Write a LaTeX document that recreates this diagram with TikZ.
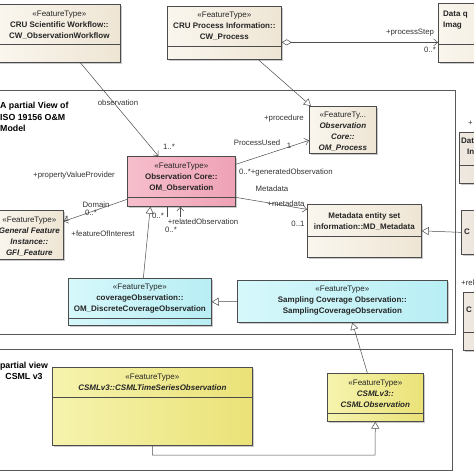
\documentclass[tikz,border=0pt]{standalone}
\usepackage{fontspec}
\setmainfont{Liberation Sans}
\usetikzlibrary{arrows.meta,positioning,shadows}

\definecolor{featL}{HTML}{FAF6EE}
\definecolor{featR}{HTML}{EEE5D4}
\definecolor{obsL}{HTML}{F6BECC}
\definecolor{obsR}{HTML}{EEA2B5}
\definecolor{covL}{HTML}{D6F8FB}
\definecolor{covR}{HTML}{B8EEF4}
\definecolor{csmlL}{HTML}{F6F3AE}
\definecolor{csmlR}{HTML}{EAE277}
\definecolor{extL}{HTML}{EFE9E1}
\definecolor{extR}{HTML}{E2D8CC}

\newcommand{\ftype}{{\mdseries «FeatureType»}}

\tikzset{
  classbox/.style={draw=black!70, line width=0.7pt, inner sep=0pt, anchor=north west,
    drop shadow={shadow xshift=1.5pt, shadow yshift=-1.5pt, opacity=0.35, fill=black!60}},
  featbox/.style={classbox, left color=featL, right color=featR},
  obsbox/.style={classbox, left color=obsL, right color=obsR},
  covbox/.style={classbox, left color=covL, right color=covR},
  csmlbox/.style={classbox, left color=csmlL, right color=csmlR},
  extbox/.style={classbox, left color=extL, right color=extR},
  boxtext/.style={font=\fontsize{8}{11}\selectfont\bfseries, align=center, inner sep=0pt, text=black!85},
  lbl/.style={font=\fontsize{7.8}{9}\selectfont, inner sep=0pt, text=black!80},
  pkglbl/.style={font=\fontsize{8.8}{11.5}\selectfont\bfseries, inner sep=0pt},
  sepline/.style={draw=black!70, line width=0.7pt},
  frameline/.style={draw=black!65, line width=0.8pt},
  assoc/.style={draw=black!70, line width=0.5pt, -{Straight Barb[length=4pt,width=7pt]}},
  gen/.style={draw=black!70, line width=0.5pt, -{Triangle[fill=white,length=7pt,width=8pt]}},
  aggr/.style={draw=black!70, line width=0.5pt, {Diamond[fill=white,length=10pt,width=6pt]}-{Straight Barb[length=4pt,width=7pt]}}
}

\begin{document}
\begin{tikzpicture}[x=1pt,y=-1pt]
\useasboundingbox[fill=white] (0,0) rectangle (474,474);

% PACKAGES
  \draw[frameline] (-5,90) rectangle (455,334);
  \draw[frameline] (-5,349) rectangle (452,470);
  \node[pkglbl, anchor=north west, align=left] (omlbl) at (0,102) {A partial View of\\ISO 19156 O\&M\\Model};
  \node[pkglbl, align=center] (csmllbl) at (24,371) {partial view\\CSML v3};

% CRU classes
  \node[featbox, minimum width=122pt, minimum height=58pt] (cwow) at (-2,4) {};
  \node[boxtext, below=6.5pt of cwow.north] (cwowtxt) {\ftype\\CRU Scientific Workflow::\\CW\_ObservationWorkflow};
  \draw[sepline] (-2,44) -- (120,44);

  \node[featbox, minimum width=114pt, minimum height=53pt] (cwproc) at (167,6) {};
  \node[boxtext, below=5.5pt of cwproc.north] (cwproctxt) {\ftype\\CRU Process Information::\\CW\_Process};
  \draw[sepline] (167,46) -- (281,46);

  \node[featbox, minimum width=102pt, minimum height=59pt] (dataq) at (438,3) {};
  \node[boxtext, anchor=north west, align=left] (dataqtxt) at (443,11) {Data q\\Imag};
  \draw[sepline] (438,44) -- (540,44);

% O&M classes
  \node[obsbox, minimum width=108pt, minimum height=50pt] (omobs) at (127,156) {};
  \node[boxtext, below=6.5pt of omobs.north] (omobstxt) {\ftype\\Observation Core::\\OM\_Observation};
  \draw[sepline] (127,197) -- (235,197);

  \node[featbox, minimum width=67pt, minimum height=47pt] (omproc) at (309,106) {};
  \node[boxtext, below=5.5pt of omproc.north] (omproctxt) {{\mdseries «FeatureTy...}\\\itshape Observation\\\itshape Core::\\\itshape OM\_Process};

  \node[featbox, minimum width=68pt, minimum height=49pt] (gfi) at (-5,210) {};
  \node[boxtext, below=6.5pt of gfi.north] (gfitxt) {\ftype\\\itshape General Feature\\\itshape Instance::\\\itshape GFI\_Feature};

  \node[featbox, minimum width=114pt, minimum height=53pt] (mdmeta) at (307,204) {};
  \node[boxtext, below=8.5pt of mdmeta.north] (mdmetatxt) {Metadata entity set\\information::MD\_Metadata};
  \draw[sepline] (307,236) -- (421,236);

  \node[extbox, minimum width=81pt, minimum height=51pt] (datright) at (459,132) {};
  \node[boxtext, anchor=north west, align=left] (datrighttxt) at (461,138) {Dat\\\hspace*{6pt}In};
  \draw[sepline] (459,165) -- (540,165);

  \node[extbox, minimum width=79pt, minimum height=44pt] (cright) at (461,210) {};
  \node[boxtext, anchor=west] (crighttxt) at (464,232) {C};

  \node[extbox, minimum width=77pt, minimum height=58pt] (crightb) at (463,292) {};
  \node[boxtext, anchor=west] (crightbtxt) at (466,310) {C};
  \draw[sepline] (463,332) -- (540,332);

  \node[covbox, minimum width=143pt, minimum height=47pt] (omdisc) at (68,278) {};
  \node[boxtext, below=5.5pt of omdisc.north] (omdisctxt) {\ftype\\coverageObservation::\\OM\_DiscreteCoverageObservation};
  \draw[sepline] (68,318) -- (211,318);

  \node[covbox, minimum width=210pt, minimum height=42pt] (sampcov) at (237,280) {};
  \node[boxtext, below=6pt of sampcov.north] (sampcovtxt) {\ftype\\Sampling Coverage Observation::\\SamplingCoverageObservation};

% CSML classes
  \node[csmlbox, minimum width=200pt, minimum height=78pt] (csmlts) at (52,367) {};
  \node[boxtext, below=6.5pt of csmlts.north] (csmltstxt) {\ftype\\\itshape CSMLv3::CSMLTimeSeriesObservation};
  \draw[sepline] (52,397) -- (252,397);

  \node[csmlbox, minimum width=96pt, minimum height=48pt] (csmlobs) at (327,373) {};
  \node[boxtext, below=6.5pt of csmlobs.north] (csmlobstxt) {\ftype\\\itshape CSMLv3::\\\itshape CSMLObservation};
  \draw[sepline] (327,413) -- (423,413);

% connectors
  \draw[assoc] ([xshift=21pt]cwow.south) -- ([xshift=-23pt]omobs.north);
  \draw[aggr] ([yshift=-9.5pt]cwproc.east) -- ([yshift=-9.5pt]dataq.west);
  \draw[gen] ([xshift=34pt]cwproc.south) -- ([xshift=2pt]omproc.north west);
  \draw[assoc] ([yshift=17pt]omobs.east) -- ([yshift=-10.5pt]omproc.west);
  \draw[assoc] ([yshift=-16pt]omobs.east) -- ([yshift=21.5pt]mdmeta.west);
  \draw[assoc] ([yshift=-18pt]omobs.west) -- ([yshift=13.5pt]gfi.east);
  \draw[draw=black!70, line width=0.5pt] ([xshift=-14pt]omobs.south) -- ++(0,10);
  \coordinate (relend) at ([xshift=-1pt,yshift=-10pt]omobs.south);
  \draw[assoc] (relend) -- ([xshift=-1pt]omobs.south);
  \draw[gen] ([xshift=3.5pt]omdisc.north) -- ([xshift=-31pt]omobs.south);
  \draw[gen] (sampcov.west) -- (omdisc.east);
  \draw[gen] (cright.west) -- (mdmeta.east);
  \draw[gen] ([xshift=-8pt]csmlobs.north) -- ([xshift=10pt]sampcov.south);
  \coordinate (tsbend) at (375,455);
  \draw[gen] (csmlts.south) |- (tsbend) -- (csmlobs.south);

% labels
  \node[lbl] (lobs) at (118,103) {observation};
  \node[lbl] (lobsm) at (169,147) {1..*};
  \node[lbl] (lstep) at (410,33) {+processStep};
  \node[lbl] (lstepm) at (430,50) {0..*};
  \node[lbl] (lproc) at (284,118) {+procedure};
  \node[lbl] (lused) at (257,143) {ProcessUsed};
  \node[lbl] (lusedm) at (289,146) {1};
  \node[lbl, anchor=west] (lgen) at (239,172) {0..*+generatedObservation};
  \node[lbl] (lmeta) at (272,189) {Metadata};
  \node[lbl] (lmetar) at (286,204) {+metadata};
  \node[lbl] (lmetam) at (298,224) {0..1};
  \node[lbl] (lpvp) at (74,175) {+propertyValueProvider};
  \node[lbl] (ldom) at (96,205) {Domain};
  \node[lbl] (ldomm) at (91,213) {0..*};
  \node[lbl] (lfoim) at (67,219) {1};
  \node[lbl] (lfoi) at (103,234) {+featureOfInterest};
  \node[lbl] (lrelm) at (158,216) {0..*};
  \node[lbl] (lrel) at (203,222) {+relatedObservation};
  \node[lbl] (lrelmb) at (171,230) {0..*};
  \node[lbl, anchor=west] (lplus) at (468,123) {+};
  \node[lbl, anchor=west] (lrelr) at (461,283) {+rel};

\end{tikzpicture}
\end{document}
